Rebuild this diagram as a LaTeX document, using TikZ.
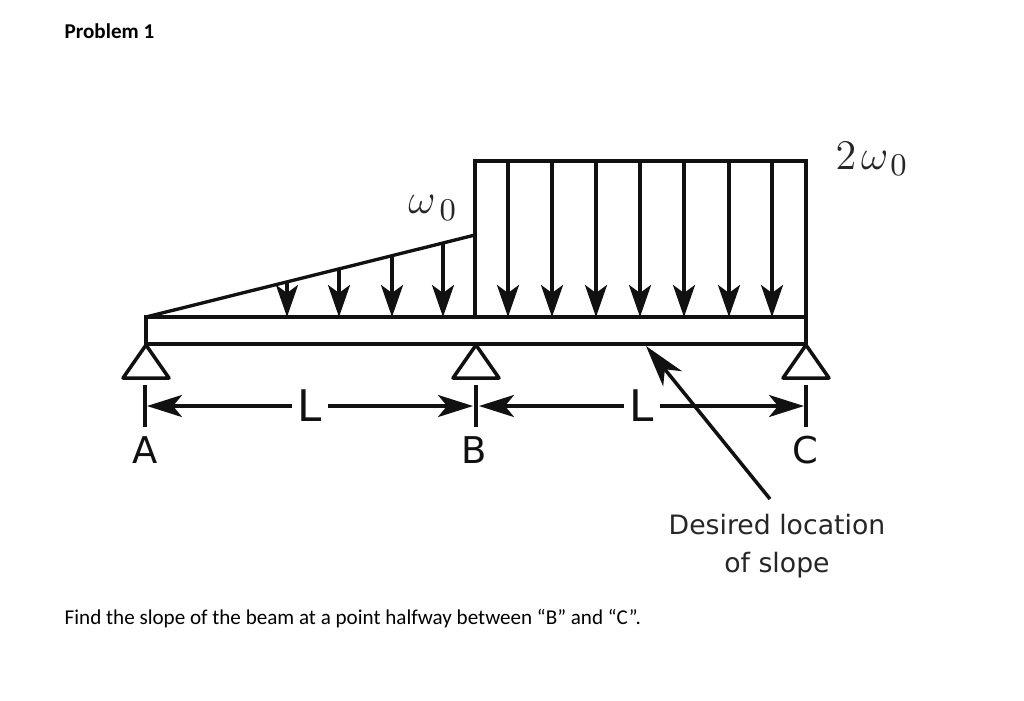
\documentclass[tikz,border=0pt]{standalone}
\usepackage{amsmath}
\usepackage{fontspec}
\setmainfont{Carlito}
\newfontfamily\figfont{DejaVu Sans}
\usepackage{xcolor}
\usetikzlibrary{arrows.meta, positioning}
\definecolor{Ink}{HTML}{111111}
\definecolor{Label}{HTML}{262626}
\tikzset{
  beam/.style={draw=Ink, line width=0.95pt},
  load/.style={-{Stealth[length=0.32cm, width=0.22cm, inset=0.08cm]}, line width=1.0pt, color=Ink},
  dim/.style={-{Stealth[length=0.35cm, width=0.22cm, inset=0.09cm]}, line width=1.0pt, color=Ink},
  tick/.style={line width=1.0pt, color=Ink},
  support/.style={draw=Ink, line width=1.0pt, line join=round},
  pointer/.style={-{Stealth[length=0.42cm, width=0.24cm, inset=0.12cm]}, line width=1.0pt, color=Ink},
  letter/.style={color=Ink, font=\figfont\fontsize{10.5}{12}\selectfont},
  span/.style={color=Ink, font=\figfont\fontsize{12.4}{14}\selectfont, inner sep=0.05cm},
  caption/.style={color=Label, font=\figfont\fontsize{7.6}{11}\selectfont, align=center},
  mag/.style={color=Label, font=\fontsize{12.2}{14}\selectfont},
  body/.style={color=black, font=\fontsize{6.0}{7}\selectfont, anchor=west, inner sep=0pt},
}

\begin{document}
\begin{tikzpicture}
  \useasboundingbox (0,0) rectangle (10.24,7.00);

  % Beam
  \draw[beam] (1.46,3.56) rectangle (8.06,3.83);

  % Distributed loads
  \draw[beam] (1.46,3.83) -- (4.75,4.65);
  \draw[beam] (4.75,3.83) rectangle (8.06,5.39);
  \foreach \x/\y in {2.87/4.18,3.39/4.31,3.92/4.44,4.43/4.57}{
    \draw[load] (\x,\y) -- (\x,3.83);
  }
  \foreach \x in {5.08,5.52,5.96,6.40,6.84,7.29,7.72}{
    \draw[load] (\x,5.39) -- (\x,3.83);
  }

  % Supports
  \foreach \x in {1.46,4.76,8.06}{
    \draw[support] (\x,3.55) -- (\x-0.23,3.22) -- (\x+0.23,3.22) -- cycle;
  }

  % Dimension ticks
  \coordinate (tickA) at (1.45,2.94);
  \coordinate (tickB) at (4.76,2.94);
  \coordinate (tickC) at (8.06,2.94);
  \foreach \p in {tickA,tickB,tickC}{
    \draw[tick] (\p) ++(0,0.21) -- ++(0,-0.42);
  }

  % Dimensions
  \node[span] (spanAB) at (3.10,2.94) {L};
  \node[span] (spanBC) at (6.42,2.94) {L};
  \draw[dim] (spanAB) -- ([xshift=0.02cm]tickA);
  \draw[dim] (spanAB) -- ([xshift=-0.03cm]tickB);
  \draw[dim] (spanBC) -- ([xshift=0.03cm]tickB);
  \draw[dim] (spanBC) -- ([xshift=-0.02cm]tickC);

  % Labels
  \node[letter] (labelA) at (1.45,2.50) {A};
  \node[letter] (labelB) at (4.74,2.50) {B};
  \node[letter] (labelC) at (8.05,2.50) {C};
  \node[mag] (magLow) at (4.33,4.92) {$\omega_{\,0}$};
  \node[mag] (magHigh) at (8.72,5.41) {$2\mkern2mu\omega_{\mkern2mu 0}$};

  % Slope location
  \node[caption] (desired) at (7.77,1.54) {Desired location\\of slope};
  \coordinate (slopeTail) at (7.70,2.01);
  \coordinate (slopeTip) at (6.46,3.54);
  \draw[pointer] (slopeTail) -- (slopeTip);

  % Problem text
  \node[body] (title) at (0.64,6.69) {\textbf{Problem 1}};
  \node[body] (question) at (0.64,0.81) {Find the slope of the beam at a point halfway between “B” and “C”.};
\end{tikzpicture}
\end{document}
